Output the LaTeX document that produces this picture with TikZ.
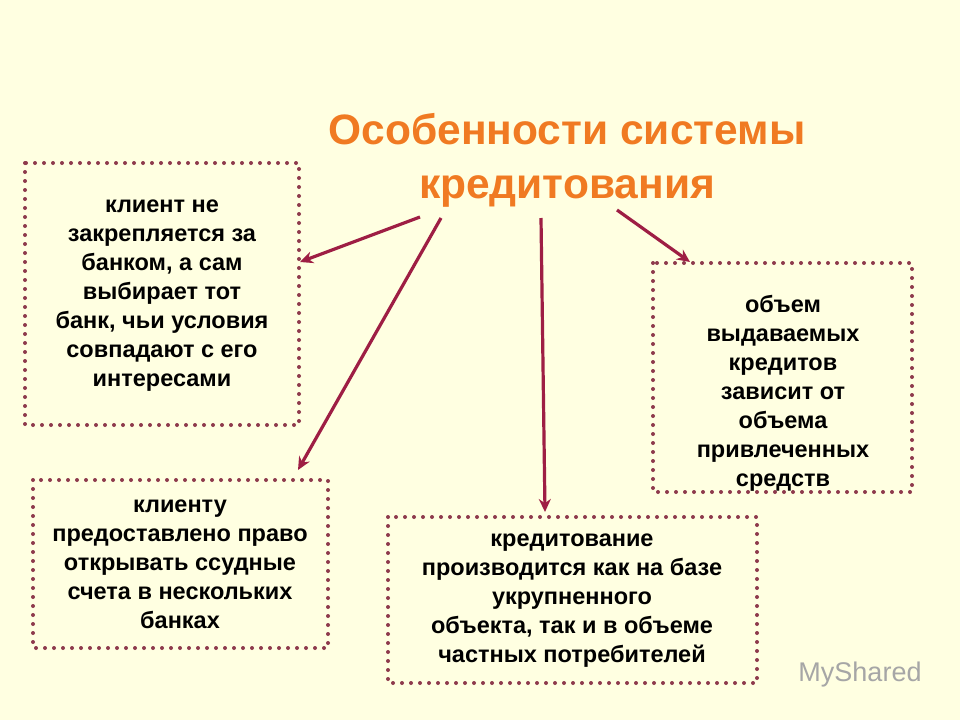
\documentclass[tikz,border=0pt]{standalone}
\usepackage{fontspec}
\setmainfont{Liberation Sans}
\usetikzlibrary{arrows.meta}
\definecolor{bg}{HTML}{FFFFE1}
\definecolor{dotc}{HTML}{8E3A4C}
\definecolor{arr}{HTML}{9E1E44}
\definecolor{ttl}{HTML}{F07A22}
\begin{document}
\begin{tikzpicture}[x=1pt,y=-1pt,
  box/.style={draw=dotc,line width=4pt,dash pattern=on 0pt off 9pt,line cap=round,inner sep=0pt},
  txt/.style={font=\bfseries\fontsize{23.5}{29}\selectfont,align=center,text=black},
  arrw/.style={draw=arr,line width=3.2pt,-{Stealth[length=13pt,width=12pt]}}]
\fill[bg] (0,0) rectangle (960,720);
\useasboundingbox (0,0) rectangle (960,720);
\draw[box] (25,163) rectangle (299,425);
\draw[box] (33,480) rectangle (328,648);
\draw[box] (388,517) rectangle (757,683);
\draw[box] (653,263) rectangle (912,492);
\node[font=\bfseries\fontsize{42.5}{54}\selectfont,text=ttl,align=center] (t) at (567,160) {Особенности системы\\кредитования};
\node[txt] (a) at (162,296) {клиент не\\закрепляется за\\банком, а сам\\выбирает тот\\банк, чьи условия\\совпадают с его\\интересами};
\node[txt] (b) at (180,564) {клиенту\\предоставлено право\\открывать ссудные\\счета в нескольких\\банках};
\node[txt] (c) at (572,601) {кредитование\\производится как на базе\\укрупненного\\объекта, так и в объеме\\частных потребителей};
\node[txt] (d) at (783,393) {объем\\выдаваемых\\кредитов\\зависит от\\объема\\привлеченных\\средств};
\coordinate (s1) at (420,217); \coordinate (e1) at (300,262);
\coordinate (s2) at (441,218); \coordinate (e2) at (298,470);
\coordinate (s3) at (541,218); \coordinate (e3) at (545,512);
\coordinate (s4) at (617,210); \coordinate (e4) at (690,262);
\draw[arrw] (s1) -- (e1);
\draw[arrw] (s2) -- (e2);
\draw[arrw] (s3) -- (e3);
\draw[arrw] (s4) -- (e4);
\node[text=gray!70,font=\fontsize{27}{30}\selectfont] (w) at (860,675) {MyShared};
\end{tikzpicture}
\end{document}
